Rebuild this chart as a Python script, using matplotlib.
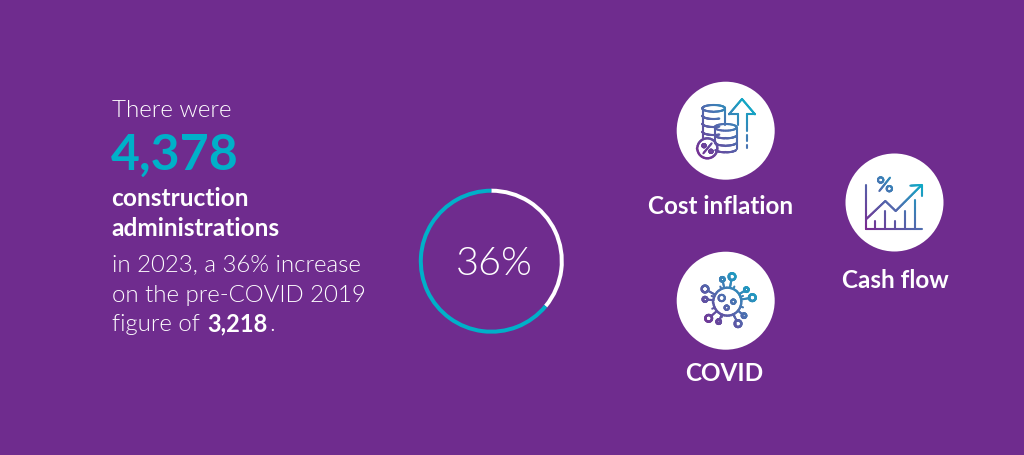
"""Construction administrations infographic: 36% ring, headline text and three icons."""

from pathlib import Path

import numpy as np
import matplotlib

matplotlib.use("Agg")
import matplotlib.pyplot as plt
from matplotlib import font_manager
from matplotlib.collections import LineCollection
from matplotlib.colors import LinearSegmentedColormap
from matplotlib.patches import Circle

WIDTH, HEIGHT = 1024, 455
PURPLE = "#6F2C8E"
CYAN = "#00B0C9"

# data
ring_labels = ["increase", "base"]
ring_values = [36, 64]
ring_colors = ["white", CYAN]
labels = ["Cost inflation", "Cash flow", "COVID"]

plt.rcParams["font.family"] = ["Lato", "DejaVu Sans"]


def lato(style, weight):
    """Font of one exact Lato file, since weight lookup can land on Hairline."""
    for entry in font_manager.fontManager.ttflist:
        if Path(entry.fname).stem == f"Lato-{style}":
            return font_manager.FontProperties(fname=entry.fname)
    return font_manager.FontProperties(family="Lato", weight=weight)


LIGHT = lato("Light", "normal")
BOLD = lato("Bold", "bold")

icon_cmap = LinearSegmentedColormap.from_list("icon", ["#7A2A90", "#4E6FB0", "#00B8CC"])

fig = plt.figure(figsize=(WIDTH / 100, HEIGHT / 100), dpi=100, facecolor=PURPLE)
ax = fig.add_axes([0, 0, 1, 1])
ax.set_xlim(0, WIDTH)
ax.set_ylim(0, HEIGHT)
ax.axis("off")


def text(x, y, s, size, font=LIGHT, color="white", ha="left"):
    """Place text with its baseline at picture pixel (x, y)."""
    prop = font.copy()
    prop.set_size(size)
    return ax.text(x, HEIGHT - y, s, fontproperties=prop, color=color, ha=ha, va="baseline")


class Icon:
    """Draws gradient strokes, given in the 3x zoom coordinates of one icon crop."""

    def __init__(self, x0, y0, bounds):
        self.x0, self.y0 = x0, y0
        self.bounds = bounds  # left, top, right, bottom of the gradient

    def line(self, points, lw=1.5):
        pts = np.asarray(points, dtype=float)
        # subdivide so the colour can change along a stroke
        dense = [pts[0]]
        for a, b in zip(pts[:-1], pts[1:]):
            n = max(2, int(np.hypot(*(b - a)) / 3))
            dense.extend(a + (b - a) * t for t in np.linspace(0, 1, n)[1:])
        dense = np.array(dense)
        left, top, right, bottom = self.bounds
        tone = 0.5 * ((dense[:, 0] - left) / (right - left) + (bottom - dense[:, 1]) / (bottom - top))
        xy = np.column_stack([self.x0 + dense[:, 0] / 3, HEIGHT - (self.y0 + dense[:, 1] / 3)])
        segs = np.stack([xy[:-1], xy[1:]], axis=1)
        ax.add_collection(LineCollection(segs, colors=icon_cmap(np.clip(tone[:-1], 0, 1)),
                                         linewidths=lw, capstyle="round"))

    def arc(self, cx, cy, rx, ry=None, start=0, end=360, lw=1.5):
        ry = rx if ry is None else ry
        t = np.deg2rad(np.linspace(start, end, 40))
        self.line(np.column_stack([cx + rx * np.cos(t), cy - ry * np.sin(t)]), lw)


# background discs
for cx, cy, r in [(725.7, 130.7, 49), (894.5, 202.5, 49), (725.7, 300.7, 49)]:
    ax.add_patch(Circle((cx, HEIGHT - cy), r, fc="white", ec="none"))

# ring, 36% clockwise from twelve o'clock
ax.pie(ring_values, colors=ring_colors, startangle=90, counterclock=False, radius=72.5,
       center=(491.3, HEIGHT - 261.2), frame=True, labels=None,
       wedgeprops={"width": 4.0, "linewidth": 0})
ax.set_xlim(0, WIDTH)
ax.set_ylim(0, HEIGHT)
ax.set_aspect("auto")
ax.axis("off")

# left text block
text(112, 117, "There were", 17.4)
text(111, 170, "4,378", 36, BOLD, CYAN)
text(111, 206.5, "construction", 17.6, BOLD)
text(111, 236, "administrations", 17.6, BOLD)
text(112, 271.5, "in 2023, a 36% increase", 17.3)
text(112, 301.5, "on the pre-COVID 2019", 17.3)
text(112, 331, "figure of", 17.3)
text(207, 331, "3,218", 17, BOLD)
text(269.5, 331, ".", 17.3)

text(494.5, 275, "36%", 28.5, ha="center")

text(721, 214, labels[0], 17.5, BOLD, ha="center")
text(895, 288, labels[1], 17.5, BOLD, ha="center")
text(724.5, 381, labels[2], 17.5, BOLD, ha="center")

# cost inflation icon: two coin stacks, percent badge, rising arrow
cost = Icon(665, 75, (95, 70, 272, 250))
cost.line([(113, 190), (113, 103)])
cost.line([(180, 103), (180, 150)])
cost.arc(146, 100, 34, 10, 0, 180)
cost.arc(146, 100, 34, 10, 180, 360)
for y in (122, 146, 170):
    cost.arc(146, y, 34, 10, 180, 300)
cost.arc(182, 157, 33, 10, 0, 360)
cost.line([(149, 160), (149, 205)])
cost.line([(215, 160), (215, 222)])
for y in (180, 202, 222):
    cost.arc(182, y, 33, 10, 200, 340)
cost.arc(127, 220, 30, lw=1.7)
cost.line([(115, 235), (140, 205)])
cost.arc(117, 212, 5)
cost.arc(138, 229, 5)
cost.line([(218, 150), (218, 118), (192, 118), (231, 72), (270, 118), (245, 118), (245, 168)])
cost.line([(245, 180), (245, 198)])
cost.line([(245, 210), (245, 218)])

# cash flow icon: bars, zig-zag arrow and percent sign
cash = Icon(835, 145, (90, 90, 262, 252))
cash.line([(92, 120), (92, 252), (260, 252)])
for x, top in [(121, 228), (151, 198), (181, 228), (211, 198), (241, 166)]:
    cash.line([(x, 250), (x, top)])
cash.line([(94, 222), (151, 168), (182, 198), (258, 122)])
cash.line([(226, 122), (260, 120), (260, 154)])
cash.line([(133, 138), (165, 98)])
cash.arc(137, 105, 8)
cash.arc(163, 131, 8)

# covid icon: virus body with capped spikes
virus = Icon(665, 245, (108, 85, 275, 250))
virus.arc(187, 170, 42, lw=1.7)
virus.arc(170, 159, 9.5)
virus.arc(205, 170, 6.5)
virus.arc(185, 188, 6.5)
for end, r in [((120, 132), 10), ((120, 163), 7), ((131, 220), 10), ((161, 230), 6.5),
               ((219, 236), 10), ((237, 212), 6.5), ((262, 158), 10), ((244, 134), 6.5),
               ((201, 95), 10), ((172, 103), 6.5)]:
    d = np.array(end, dtype=float) - (187, 170)
    u = d / np.hypot(*d)
    virus.line([(187, 170) + u * 42, np.array(end) - u * r])
    virus.arc(end[0], end[1], r, lw=1.8)
for ang in (20, 65, 115, 160, 205, 250, 295, 340):
    u = np.array([np.cos(np.deg2rad(ang)), -np.sin(np.deg2rad(ang))])
    virus.line([(187, 170) + u * 42, (187, 170) + u * 50])

fig.savefig("out.png", dpi=100, facecolor=PURPLE)
